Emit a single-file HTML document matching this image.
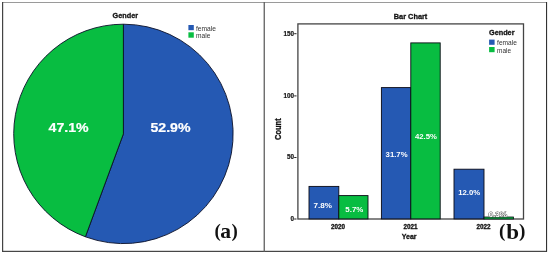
<!DOCTYPE html>
<html>
<head>
<meta charset="utf-8">
<title>Gender charts</title>
<style>
html,body{margin:0;padding:0;background:#fff;}
body{width:550px;height:255px;overflow:hidden;}
svg{display:block;}
text{font-family:"Liberation Sans",Arial,Helvetica,sans-serif;}
.b{font-weight:bold;}
.k{stroke:#111;stroke-width:0.3px;}
.w{stroke:#fff;stroke-width:0.2px;}
.serif{font-family:"Liberation Serif","Times New Roman",serif;font-weight:bold;}
</style>
</head>
<body>
<svg width="550" height="255" viewBox="0 0 550 255">
<rect x="0" y="0" width="550" height="255" fill="#ffffff"/>

<!-- outer frame -->
<rect x="2" y="2" width="545" height="1" fill="#9a9a9a"/>
<rect x="2" y="250.8" width="545" height="1.1" fill="#333"/>
<rect x="2" y="2" width="1.2" height="249.8" fill="#444"/>
<rect x="263.6" y="2" width="1.3" height="249.8" fill="#606060"/>
<rect x="546" y="2" width="1.1" height="249.8" fill="#333"/>

<!-- PIE -->
<g stroke="#0a1028" stroke-width="0.9" stroke-linejoin="round">
<path d="M123.4,133.9 L123.4,24.2 A109.7,109.7 0 1 1 85.4,236.8 Z" fill="#2559b3"/>
<path d="M123.4,133.9 L85.4,236.8 A109.7,109.7 0 0 1 123.4,24.2 Z" fill="#08bd41"/>
</g>
<text class="b k" x="125.3" y="18" font-size="7.8" text-anchor="middle" fill="#111" textLength="25.4" lengthAdjust="spacingAndGlyphs">Gender</text>
<text class="b w" x="48.6" y="132" font-size="12" fill="#fff" textLength="40" lengthAdjust="spacingAndGlyphs">47.1%</text>
<text class="b w" x="150.5" y="132.1" font-size="12" fill="#fff" textLength="40" lengthAdjust="spacingAndGlyphs">52.9%</text>
<rect x="188.4" y="25" width="5.4" height="5.2" fill="#2559b3"/>
<rect x="188.4" y="32.3" width="5.4" height="5.4" fill="#08bd41"/>
<text x="196" y="30.7" font-size="6.6" fill="#333" textLength="20" lengthAdjust="spacingAndGlyphs">female</text>
<text x="196" y="38.1" font-size="6.6" fill="#333" textLength="14.3" lengthAdjust="spacingAndGlyphs">male</text>
<text class="serif" x="214.6" y="237.4" font-size="18.9" fill="#111">(</text>
<text class="serif" x="220.2" y="238.4" font-size="21.8" fill="#111" textLength="10.8" lengthAdjust="spacingAndGlyphs">a</text>
<text class="serif" x="231.6" y="237.4" font-size="18.9" fill="#111">)</text>

<!-- BAR CHART -->
<text class="b k" x="393.8" y="18.8" font-size="7.8" fill="#111" textLength="33.5" lengthAdjust="spacingAndGlyphs">Bar Chart</text>
<!-- plot frame -->
<rect x="297.9" y="23.9" width="225.6" height="195.1" fill="#fff" stroke="#444" stroke-width="1.3"/>
<!-- bars -->
<g stroke="#0a0a14" stroke-width="0.9">
<rect x="309" y="186.4" width="29.8" height="32.5" fill="#2559b3"/>
<rect x="338.8" y="195.6" width="29.2" height="23.3" fill="#08bd41"/>
<rect x="381.4" y="87.6" width="29.4" height="131.3" fill="#2559b3"/>
<rect x="410.8" y="42.9" width="29.4" height="176" fill="#08bd41"/>
<rect x="454" y="169.2" width="30" height="49.7" fill="#2559b3"/>
<rect x="484" y="217" width="29.6" height="2" fill="#08bd41" stroke-width="0.8"/>
</g>
<!-- y ticks -->
<g fill="#222">
<rect x="294.2" y="33.2" width="2.3" height="1"/>
<rect x="294.2" y="95.4" width="2.3" height="1"/>
<rect x="294.2" y="157" width="2.3" height="1"/>
<rect x="294.2" y="218.5" width="2.3" height="1"/>
</g>
<g class="b k" font-size="6.3" fill="#111" text-anchor="end" style="stroke-width:0.2px">
<text x="293.9" y="35.6">150</text>
<text x="293.9" y="97.7">100</text>
<text x="293.9" y="159.3">50</text>
<text x="293.9" y="221.3">0</text>
</g>
<text class="b k" font-size="8.4" fill="#111" text-anchor="middle" transform="translate(280.9,129.2) rotate(-90)" textLength="21.7" lengthAdjust="spacingAndGlyphs">Count</text>
<g class="b k" font-size="6.3" fill="#111" text-anchor="middle">
<text x="338.1" y="228.7">2020</text>
<text x="410.6" y="228.9">2021</text>
<text x="483.4" y="228.9">2022</text>
</g>
<text class="b k" x="409.2" y="238.5" font-size="7.8" fill="#111" text-anchor="middle" textLength="14.8" lengthAdjust="spacingAndGlyphs">Year</text>
<!-- bar labels -->
<g class="b" font-size="7.5" fill="#fff">
<text x="313.5" y="208" textLength="18.5" lengthAdjust="spacingAndGlyphs">7.8%</text>
<text x="345.3" y="212.3" textLength="18" lengthAdjust="spacingAndGlyphs">5.7%</text>
<text x="385.6" y="157" textLength="22" lengthAdjust="spacingAndGlyphs">31.7%</text>
<text x="415" y="138.8" textLength="22" lengthAdjust="spacingAndGlyphs">42.5%</text>
<text x="458.2" y="195.3" textLength="22" lengthAdjust="spacingAndGlyphs">12.0%</text>
</g>
<text class="b" x="488.4" y="216.8" font-size="7.5" fill="#fff" stroke="#555" stroke-width="0.8" paint-order="stroke" textLength="18.8" lengthAdjust="spacingAndGlyphs">0.3%</text>
<!-- legend -->
<text class="b k" x="489" y="35.3" font-size="7.8" fill="#111" textLength="25.5" lengthAdjust="spacingAndGlyphs">Gender</text>
<rect x="489.1" y="39.6" width="5.5" height="5.2" fill="#2559b3"/>
<rect x="489.1" y="47" width="5.5" height="5.2" fill="#08bd41"/>
<text x="497.1" y="45.4" font-size="6.6" fill="#333" textLength="19.8" lengthAdjust="spacingAndGlyphs">female</text>
<text x="497.1" y="52.7" font-size="6.6" fill="#333" textLength="14" lengthAdjust="spacingAndGlyphs">male</text>
<text class="serif" x="498.9" y="236.7" font-size="19.2" fill="#111">(</text>
<text class="serif" x="506.2" y="238.5" font-size="21.8" fill="#111" textLength="12.8" lengthAdjust="spacingAndGlyphs">b</text>
<text class="serif" x="518.9" y="236.7" font-size="19.2" fill="#111">)</text>
</svg>
</body>
</html>
